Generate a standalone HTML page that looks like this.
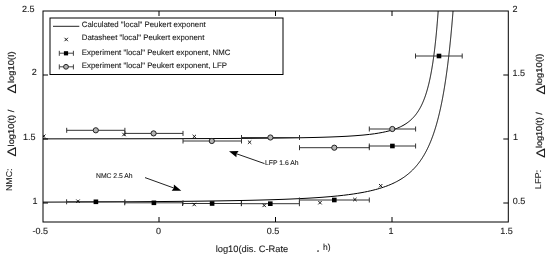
<!DOCTYPE html><html><head><meta charset="utf-8"><style>html,body{margin:0;padding:0;background:#fff;}svg{display:block}</style></head><body>
<svg width="550" height="257" viewBox="0 0 550 257">
<style>text{text-rendering:geometricPrecision;stroke:#1a1a1a;stroke-width:0.1px}</style>
<rect width="550" height="257" fill="#fff"/>
<defs><clipPath id="c"><rect x="43" y="11" width="465.3" height="211"/></clipPath></defs>
<g clip-path="url(#c)" fill="none" stroke="#000" stroke-width="1">
<path d="M43.00 138.87 51.00 138.86 59.00 138.85 67.00 138.85 75.00 138.84 83.00 138.83 91.00 138.82 99.00 138.81 107.00 138.80 115.00 138.79 123.00 138.78 131.00 138.77 139.00 138.76 147.00 138.74 155.00 138.72 163.00 138.71 171.00 138.69 179.00 138.67 187.00 138.64 195.00 138.62 203.00 138.59 211.00 138.56 219.00 138.53 227.00 138.49 235.00 138.44 243.00 138.39 251.00 138.34 259.00 138.28 267.00 138.21 275.00 138.12 283.00 138.03 291.00 137.92 299.00 137.79 307.00 137.64 315.00 137.46 323.00 137.24 331.00 136.98 339.00 136.65 347.00 136.25 355.00 135.74 363.00 135.08 369.39 134.41 374.49 133.75 378.69 133.09 382.25 132.45 385.31 131.81 387.99 131.17 390.36 130.53 392.48 129.90 394.39 129.27 396.13 128.65 397.72 128.02 399.18 127.40 400.53 126.77 401.79 126.15 402.95 125.53 404.04 124.91 405.07 124.29 406.03 123.67 406.93 123.06 407.79 122.44 408.60 121.82 409.37 121.21 410.10 120.59 410.80 119.98 411.47 119.37 412.10 118.75 412.71 118.14 413.29 117.53 413.85 116.91 414.39 116.30 414.91 115.69 415.40 115.08 415.88 114.47 416.34 113.86 416.79 113.25 417.22 112.64 417.64 112.03 418.04 111.42 418.43 110.81 418.81 110.20 419.18 109.59 419.54 108.98 419.88 108.37 420.22 107.76 420.54 107.16 420.86 106.55 421.17 105.94 421.47 105.33 421.77 104.72 422.05 104.12 422.33 103.51 422.60 102.90 422.87 102.29 423.13 101.69 423.38 101.08 423.63 100.47 423.87 99.87 424.11 99.26 424.34 98.65 424.57 98.05 424.79 97.44 425.01 96.83 425.22 96.23 425.43 95.62 425.63 95.02 425.83 94.41 426.03 93.80 426.22 93.20 426.41 92.59 426.60 91.99 426.78 91.38 426.96 90.78 427.13 90.17 427.30 89.57 427.47 88.96 427.64 88.35 427.80 87.75 427.96 87.14 428.12 86.54 428.28 85.93 428.43 85.33 428.58 84.73 428.73 84.12 428.88 83.52 429.02 82.91 429.16 82.31 429.30 81.70 429.44 81.10 429.57 80.49 429.71 79.89 429.84 79.28 429.97 78.68 430.09 78.08 430.22 77.47 430.34 76.87 430.46 76.26 430.58 75.66 430.70 75.05 430.82 74.45 430.94 73.85 431.05 73.24 431.16 72.64 431.27 72.03 431.38 71.43 431.49 70.83 431.60 70.22 431.70 69.62 431.81 69.02 431.91 68.41 432.01 67.81 432.11 67.20 432.21 66.60 432.31 66.00 432.41 65.39 432.50 64.79 432.60 64.19 432.69 63.58 432.78 62.98 432.88 62.38 432.97 61.77 433.06 61.17 433.14 60.57 433.23 59.96 433.32 59.36 433.40 58.76 433.49 58.15 433.57 57.55 433.66 56.95 433.74 56.34 433.82 55.74 433.90 55.14 433.98 54.53 434.06 53.93 434.13 53.33 434.21 52.73 434.29 52.12 434.36 51.52 434.44 50.92 434.51 50.31 434.59 49.71 434.66 49.11 434.73 48.50 434.80 47.90 434.87 47.30 434.94 46.70 435.01 46.09 435.08 45.49 435.15 44.89 435.21 44.28 435.28 43.68 435.35 43.08 435.41 42.48 435.48 41.87 435.54 41.27 435.61 40.67 435.67 40.07 435.73 39.46 435.79 38.86 435.86 38.26 435.92 37.66 435.98 37.05 436.04 36.45 436.10 35.85 436.16 35.25 436.22 34.64 436.27 34.04 436.33 33.44 436.39 32.84 436.44 32.23 436.50 31.63 436.56 31.03 436.61 30.43 436.67 29.82 436.72 29.22 436.78 28.62 436.83 28.02 436.88 27.41 436.93 26.81 436.99 26.21 437.04 25.61 437.09 25.01 437.14 24.40 437.19 23.80 437.24 23.20 437.29 22.60 437.34 21.99 437.39 21.38 437.44 20.76 437.49 20.14 437.54 19.52 437.59 18.89 437.64 18.26 437.69 17.62 437.74 16.97 437.79 16.33 437.84 15.67 437.89 15.01 437.94 14.35 437.99 13.68 438.04 13.01 438.09 12.33 438.14 11.64 438.19 10.95 438.24 10.26 438.29 9.56 438.34 8.85 438.39 8.14 438.44 7.42 438.49 6.70 438.54 5.97 438.59 5.24 438.64 4.50"/>
<path d="M43.00 202.12 51.00 202.10 59.00 202.07 67.00 202.04 75.00 202.01 83.00 201.98 91.00 201.95 99.00 201.91 107.00 201.88 115.00 201.84 123.00 201.79 131.00 201.75 139.00 201.70 147.00 201.64 155.00 201.58 163.00 201.52 171.00 201.45 179.00 201.38 187.00 201.30 195.00 201.21 203.00 201.11 211.00 201.01 219.00 200.89 227.00 200.76 235.00 200.62 243.00 200.46 251.00 200.29 259.00 200.09 267.00 199.87 275.00 199.62 283.00 199.35 291.00 199.03 299.00 198.67 307.00 198.25 315.00 197.77 323.00 197.21 330.94 196.56 337.69 195.91 343.54 195.27 348.67 194.64 353.23 194.00 357.31 193.37 361.01 192.74 364.37 192.11 367.45 191.49 370.28 190.87 372.91 190.24 375.34 189.62 377.61 189.00 379.73 188.38 381.72 187.76 383.60 187.14 385.36 186.53 387.03 185.91 388.62 185.30 390.12 184.68 391.55 184.07 392.91 183.45 394.21 182.84 395.45 182.22 396.64 181.61 397.78 181.00 398.87 180.39 399.92 179.77 400.93 179.16 401.90 178.55 402.84 177.94 403.75 177.33 404.62 176.72 405.46 176.11 406.28 175.50 407.07 174.89 407.83 174.28 408.57 173.67 409.29 173.06 409.99 172.45 410.66 171.84 411.32 171.24 411.96 170.63 412.58 170.02 413.19 169.41 413.78 168.80 414.35 168.20 414.91 167.59 415.46 166.98 415.99 166.37 416.51 165.77 417.02 165.16 417.51 164.55 418.00 163.95 418.47 163.34 418.93 162.73 419.39 162.13 419.83 161.52 420.26 160.91 420.69 160.31 421.11 159.70 421.51 159.09 421.91 158.49 422.30 157.88 422.69 157.28 423.06 156.67 423.43 156.06 423.80 155.46 424.15 154.85 424.50 154.25 424.84 153.64 425.18 153.04 425.51 152.43 425.84 151.83 426.16 151.22 426.47 150.62 426.78 150.01 427.09 149.41 427.38 148.80 427.68 148.20 427.97 147.59 428.25 146.99 428.53 146.38 428.81 145.78 429.08 145.17 429.35 144.57 429.61 143.96 429.87 143.36 430.13 142.76 430.38 142.15 430.63 141.55 430.88 140.94 431.12 140.34 431.36 139.73 431.59 139.13 431.82 138.53 432.05 137.92 432.28 137.32 432.50 136.71 432.72 136.11 432.94 135.51 433.15 134.90 433.36 134.30 433.57 133.69 433.78 133.09 433.98 132.49 434.18 131.88 434.38 131.28 434.57 130.68 434.77 130.07 434.96 129.47 435.15 128.87 435.34 128.26 435.52 127.66 435.70 127.05 435.88 126.45 436.06 125.85 436.24 125.24 436.41 124.64 436.58 124.04 436.76 123.43 436.92 122.83 437.09 122.23 437.26 121.62 437.42 121.02 437.58 120.42 437.74 119.82 437.90 119.21 438.06 118.61 438.21 118.01 438.36 117.40 438.51 116.80 438.67 116.20 438.81 115.59 438.96 114.99 439.11 114.39 439.25 113.78 439.39 113.18 439.54 112.58 439.68 111.98 439.81 111.37 439.95 110.77 440.09 110.17 440.22 109.56 440.36 108.96 440.49 108.36 440.62 107.76 440.75 107.15 440.88 106.55 441.01 105.95 441.13 105.35 441.26 104.74 441.38 104.14 441.51 103.54 441.63 102.93 441.75 102.33 441.87 101.73 441.99 101.13 442.11 100.52 442.22 99.92 442.34 99.32 442.45 98.72 442.57 98.11 442.68 97.51 442.79 96.91 442.90 96.31 443.01 95.70 443.12 95.10 443.23 94.50 443.34 93.90 443.45 93.29 443.55 92.69 443.66 92.09 443.76 91.49 443.87 90.89 443.97 90.28 444.07 89.68 444.17 89.08 444.27 88.48 444.37 87.87 444.47 87.27 444.57 86.67 444.67 86.07 444.76 85.46 444.86 84.86 444.95 84.26 445.05 83.66 445.14 83.06 445.23 82.45 445.33 81.85 445.42 81.25 445.51 80.65 445.60 80.05 445.69 79.44 445.78 78.84 445.87 78.24 445.96 77.64 446.04 77.03 446.13 76.43 446.22 75.83 446.30 75.23 446.39 74.63 446.47 74.02 446.56 73.42 446.64 72.82 446.72 72.22 446.80 71.62 446.89 71.01 446.97 70.41 447.05 69.81 447.13 69.21 447.21 68.61 447.29 68.00 447.36 67.40 447.44 66.80 447.52 66.20 447.60 65.60 447.67 64.99 447.75 64.39 447.82 63.79 447.90 63.19 447.97 62.59 448.05 61.99 448.12 61.38 448.20 60.78 448.27 60.18 448.34 59.58 448.41 58.98 448.48 58.37 448.55 57.77 448.63 57.17 448.70 56.57 448.77 55.97 448.83 55.37 448.90 54.76 448.97 54.16 449.04 53.56 449.11 52.96 449.18 52.36 449.24 51.76 449.31 51.15 449.38 50.55 449.44 49.95 449.51 49.35 449.57 48.75 449.64 48.14 449.70 47.54 449.76 46.94 449.83 46.34 449.89 45.74 449.95 45.14 450.02 44.53 450.08 43.93 450.14 43.33 450.20 42.73 450.26 42.13 450.33 41.53 450.39 40.93 450.45 40.32 450.51 39.72 450.57 39.12 450.62 38.52 450.68 37.92 450.74 37.32 450.80 36.71 450.86 36.11 450.92 35.51 450.97 34.91 451.03 34.31 451.09 33.71 451.14 33.10 451.20 32.50 451.26 31.90 451.31 31.30 451.37 30.70 451.42 30.10 451.48 29.50 451.53 28.89 451.59 28.29 451.64 27.69 451.70 27.09 451.75 26.49 451.80 25.89 451.85 25.29 451.91 24.68 451.96 24.08 452.01 23.48 452.06 22.88 452.12 22.28 452.17 21.68 452.22 21.07 452.27 20.47 452.32 19.87 452.37 19.27 452.42 18.67 452.47 18.07 452.52 17.46 452.57 16.86 452.62 16.25 452.67 15.64 452.72 15.02 452.77 14.40 452.82 13.78 452.87 13.16 452.92 12.53 452.97 11.90 453.02 11.27 453.07 10.63 453.12 9.99 453.17 9.35 453.22 8.70 453.27 8.05 453.32 7.40 453.37 6.75 453.42 6.09 453.47 5.43 453.52 4.76"/>
</g>
<g stroke="#333" stroke-width="1" fill="none">
<path d="M66.7 130.3H124.9M66.7 127.8v5M124.9 127.8v5"/>
<path d="M124.9 133.4H183.0M124.9 130.9v5M183.0 130.9v5"/>
<path d="M183.0 141.0H241.5M183.0 138.5v5M241.5 138.5v5"/>
<path d="M241.5 137.5H299.5M241.5 135.0v5M299.5 135.0v5"/>
<path d="M299.5 147.7H369.3M299.5 145.2v5M369.3 145.2v5"/>
<path d="M369.3 129.0H415.6M369.3 126.5v5M415.6 126.5v5"/>
<path d="M66.6 201.8H124.9M66.6 199.3v5M124.9 199.3v5"/>
<path d="M124.7 202.8H183.0M124.7 200.3v5M183.0 200.3v5"/>
<path d="M182.5 203.5H241.5M182.5 201.0v5M241.5 201.0v5"/>
<path d="M241.3 203.7H299.4M241.3 201.2v5M299.4 201.2v5"/>
<path d="M299.4 200.0H369.3M299.4 197.5v5M369.3 197.5v5"/>
<path d="M369.3 146.0H415.6M369.3 143.5v5M415.6 143.5v5"/>
<path d="M415.5 56.0H462.2M415.5 53.5v5M462.2 53.5v5"/>
</g>
<g fill="#b4b4b4" stroke="#222" stroke-width="1">
<circle cx="95.8" cy="130.3" r="2.6"/>
<circle cx="153.6" cy="133.4" r="2.6"/>
<circle cx="211.8" cy="141.0" r="2.6"/>
<circle cx="270.4" cy="137.5" r="2.6"/>
<circle cx="334.3" cy="147.7" r="2.6"/>
<circle cx="392.3" cy="129.0" r="2.6"/>
</g>
<g fill="#000">
<rect x="93.6" y="199.5" width="4.6" height="4.6"/>
<rect x="151.6" y="200.5" width="4.6" height="4.6"/>
<rect x="209.8" y="201.2" width="4.6" height="4.6"/>
<rect x="268.0" y="201.4" width="4.6" height="4.6"/>
<rect x="332.0" y="197.7" width="4.6" height="4.6"/>
<rect x="390.1" y="143.7" width="4.6" height="4.6"/>
<rect x="436.7" y="53.7" width="4.6" height="4.6"/>
</g>
<g stroke="#000" stroke-width="0.9" clip-path="url(#c)">
<path d="M122.3 132.8l3.4 3.4M125.7 132.8l-3.4 3.4"/>
<path d="M192.6 134.8l3.4 3.4M196.0 134.8l-3.4 3.4"/>
<path d="M247.9 140.5l3.4 3.4M251.3 140.5l-3.4 3.4"/>
<path d="M76.3 199.5l3.4 3.4M79.7 199.5l-3.4 3.4"/>
<path d="M192.5 202.8l3.4 3.4M195.9 202.8l-3.4 3.4"/>
<path d="M262.5 203.7l3.4 3.4M265.9 203.7l-3.4 3.4"/>
<path d="M318.3 201.0l3.4 3.4M321.7 201.0l-3.4 3.4"/>
<path d="M353.2 197.8l3.4 3.4M356.6 197.8l-3.4 3.4"/>
<path d="M379.0 184.0l3.4 3.4M382.4 184.0l-3.4 3.4"/>
<path d="M42.1 134.5l3.4 3.4M45.5 134.5l-3.4 3.4"/>
</g>
<rect x="43" y="11" width="465.3" height="211" fill="none" stroke="#000" stroke-width="1"/>
<path d="M159.0 222.0v-5M159.0 11.0v5M275.5 222.0v-5M275.5 11.0v5M392.0 222.0v-5M392.0 11.0v5M43.0 75.0h5M508.3 75.0h-5M43.0 139.0h5M508.3 139.0h-5M43.0 203.0h5M508.3 203.0h-5" stroke="#000" stroke-width="1" fill="none"/>
<g font-family="Liberation Sans, Arial, sans-serif" font-size="9" fill="#1a1a1a">
<text x="22" y="11.5">2.5</text>
<text x="31.8" y="75.2">2</text>
<text x="22.9" y="139.5">1.5</text>
<text x="32.6" y="203.5">1</text>
<text x="512.5" y="11.5">2</text>
<text x="512.6" y="75.5">1.5</text>
<text x="513" y="139.5">1</text>
<text x="512.7" y="203.5">0.5</text>
<text x="40.2" y="233.5" text-anchor="middle">-0.5</text>
<text x="158.5" y="233.5" text-anchor="middle">0</text>
<text x="273" y="233.5" text-anchor="middle">0.5</text>
<text x="391" y="233.5" text-anchor="middle">1</text>
<text x="506.6" y="233.5" text-anchor="middle">1.5</text>
</g>
<text font-family="Liberation Sans, Arial, sans-serif" font-size="9.32" fill="#1a1a1a" x="215.7" y="252">log10(dis. C-Rate</text>
<text font-family="Liberation Sans, Arial, sans-serif" font-size="6" fill="#1a1a1a" x="316.9" y="253">•</text>
<text font-family="Liberation Sans, Arial, sans-serif" font-size="8.5" fill="#1a1a1a" x="323" y="249.5">h)</text>
<rect x="50" y="18" width="233" height="56.5" fill="#fff" stroke="#000" stroke-width="1"/>
<path d="M53 26.3H79.3" stroke="#222" stroke-width="1"/>
<path d="M64.5 37.8l3.4 3.4M67.9 37.8l-3.4 3.4" stroke="#000" stroke-width="0.9"/>
<path d="M59.3 53.2H73.4M59.3 50.8v5M73.4 50.8v5M59.3 66.8H73.4M59.3 64.4v5M73.4 64.4v5" stroke="#444" stroke-width="1" fill="none"/>
<rect x="63.9" y="51.2" width="4.2" height="4.2" fill="#000"/>
<circle cx="66" cy="66.8" r="2.4" fill="#b4b4b4" stroke="#222" stroke-width="1"/>
<g font-family="Liberation Sans, Arial, sans-serif" font-size="7.8" fill="#1a1a1a" style="stroke-width:0.22px">
<text x="81.8" y="26.7">Calculated &quot;local&quot; Peukert exponent</text>
<text x="81.8" y="40">Datasheet &quot;local&quot; Peukert exponent</text>
<text x="81.8" y="54.9">Experiment &quot;local&quot; Peukert exponent, NMC</text>
<text x="81.8" y="67.8">Experiment &quot;local&quot; Peukert exponent, LFP</text>
</g>
<text font-family="Liberation Sans, Arial, sans-serif" font-size="6.8" fill="#1a1a1a" x="265.1" y="165">LFP 1.6 Ah</text>
<text font-family="Liberation Sans, Arial, sans-serif" font-size="6.8" fill="#1a1a1a" x="96" y="178">NMC 2.5 Ah</text>
<path d="M264.5 163.6L236.6 153.8" stroke="#222" stroke-width="1"/><path d="M229.0 151.2L238.6 151.1L236.6 153.8L236.4 157.2Z" fill="#000"/>
<path d="M145.0 177.6L173.8 188.0" stroke="#222" stroke-width="1"/><path d="M181.3 190.7L171.7 190.7L173.8 188.0L173.9 184.6Z" fill="#000"/>
<g font-family="Liberation Sans, Arial, sans-serif" fill="#1a1a1a">
<text transform="translate(11.60,191.00) rotate(-90)" font-size="8.5" textLength="22.50" lengthAdjust="spacingAndGlyphs" style="stroke-width:0.1px">NMC:</text>
<text transform="translate(15.60,156.70) rotate(-90) scale(1.2,1)" font-size="12.5" style="stroke-width:0.05px">Δ</text>
<text transform="translate(14.00,146.40) rotate(-90)" font-size="8.5" textLength="36.70" lengthAdjust="spacingAndGlyphs" style="stroke-width:0.22px">log10(t) /</text>
<text transform="translate(15.60,93.80) rotate(-90) scale(1.2,1)" font-size="12.5" style="stroke-width:0.05px">Δ</text>
<text transform="translate(14.00,83.00) rotate(-90)" font-size="8.5" textLength="31.70" lengthAdjust="spacingAndGlyphs" style="stroke-width:0.22px">log10(I)</text>
<text transform="translate(540.60,189.20) rotate(-90)" font-size="8.5" textLength="19.50" lengthAdjust="spacingAndGlyphs" style="stroke-width:0.1px">LFP:</text>
<text transform="translate(544.60,158.00) rotate(-90) scale(1.2,1)" font-size="12.5" style="stroke-width:0.05px">Δ</text>
<text transform="translate(542.20,148.10) rotate(-90)" font-size="8.5" textLength="35.90" lengthAdjust="spacingAndGlyphs" style="stroke-width:0.22px">log10(t) /</text>
<text transform="translate(544.60,94.70) rotate(-90) scale(1.2,1)" font-size="12.5" style="stroke-width:0.05px">Δ</text>
<text transform="translate(542.00,85.30) rotate(-90)" font-size="8.5" textLength="31.80" lengthAdjust="spacingAndGlyphs" style="stroke-width:0.22px">log10(I)</text>
</g>
</svg></body></html>
